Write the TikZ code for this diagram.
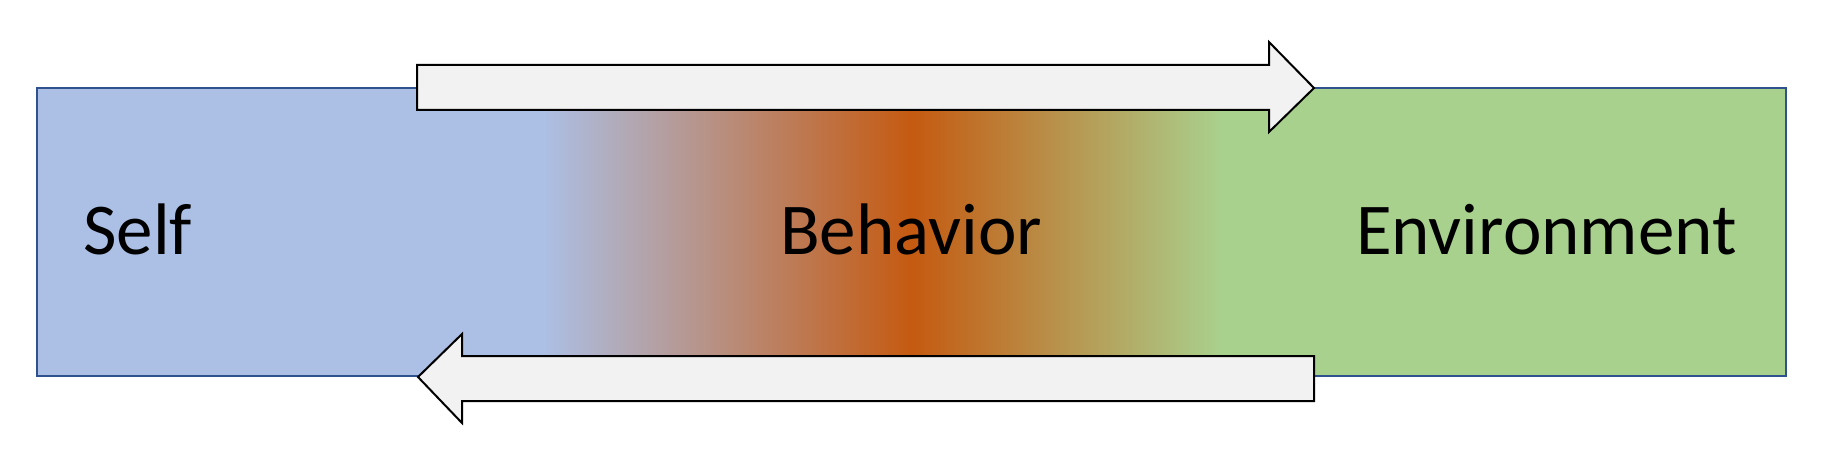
\documentclass[tikz,border=0pt]{standalone}
\usepackage{fontspec}
\setmainfont{Carlito}
\definecolor{cblue}{RGB}{172,192,230}
\definecolor{corange}{RGB}{197,90,17}
\definecolor{cgreen}{RGB}{169,209,142}
\definecolor{cborder}{RGB}{47,82,143}
\definecolor{carrow}{RGB}{242,242,242}
\pgfdeclarehorizontalshading{sbe}{100bp}{color(0bp)=(cblue); color(39.4bp)=(cblue); color(50bp)=(corange); color(58.9bp)=(cgreen); color(100bp)=(cgreen)}
\tikzset{
  bigarrow/.style={draw=black, line width=1pt, fill=carrow, line join=miter},
  lbl/.style={font=\fontsize{36.5pt}{44pt}\selectfont, text=black, inner sep=0pt}
}
\begin{document}
\begin{tikzpicture}[x=0.5pt,y=-0.5pt]
\useasboundingbox (0,0) rectangle (1826,454);
\fill[white] (0,0) rectangle (1826,454);
\draw[cborder, line width=0.7pt, shading=sbe] (37,88) rectangle (1786,376);
\draw[bigarrow] (417,65) -- (1269,65) -- (1269,42) -- (1314,88) -- (1269,132) -- (1269,110) -- (417,110) -- cycle;
\draw[bigarrow] (1314,356) -- (462,356) -- (462,334) -- (418,377) -- (462,423) -- (462,401) -- (1314,401) -- cycle;
\node[lbl, anchor=base west] (self) at (83,255) {Self};
\node[lbl, anchor=base] (beh) at (911,255) {Behavior};
\node[lbl, anchor=base east] (env) at (1737,255) {Environment};
\end{tikzpicture}
\end{document}
